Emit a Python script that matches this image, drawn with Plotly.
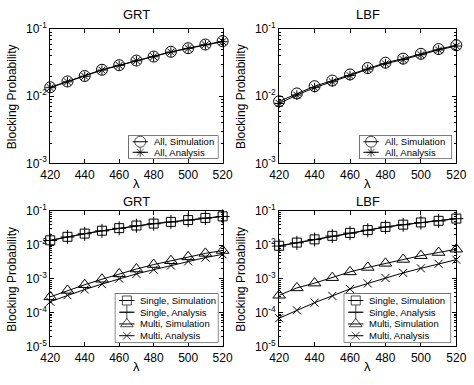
import plotly.graph_objects as go

W, H = 474, 385

lam = [420, 430, 440, 450, 460, 470, 480, 490, 500, 510, 520]

grt_all_sim = [0.0136, 0.0166, 0.0200, 0.0248, 0.0290, 0.0340, 0.0390, 0.0460, 0.0520, 0.0590, 0.0660]
grt_all_ana = [0.0134, 0.0164, 0.0198, 0.0245, 0.0288, 0.0338, 0.0388, 0.0455, 0.0515, 0.0585, 0.0650]

lbf_all_sim = [0.0084, 0.0110, 0.0141, 0.0171, 0.0211, 0.0263, 0.0316, 0.0363, 0.0428, 0.0504, 0.0574]
lbf_all_ana = [0.0078, 0.0104, 0.0134, 0.0164, 0.0203, 0.0253, 0.0305, 0.0352, 0.0416, 0.0490, 0.0560]

grt_single_sim = [0.0138, 0.0175, 0.0218, 0.0265, 0.0316, 0.0377, 0.0431, 0.0484, 0.0547, 0.0633, 0.0706]
grt_single_ana = [0.0136, 0.0173, 0.0215, 0.0262, 0.0312, 0.0372, 0.0426, 0.0480, 0.0543, 0.0628, 0.0700]
grt_multi_sim = [0.000292, 0.000452, 0.000668, 0.00097, 0.00140, 0.00195, 0.00264, 0.00343, 0.00445, 0.00565, 0.00687]
grt_multi_ana = [0.000211, 0.000326, 0.000482, 0.000698, 0.00101, 0.00140, 0.00186, 0.00247, 0.00328, 0.00425, 0.00529]

lbf_single_sim = [0.0095, 0.0118, 0.0147, 0.0187, 0.0228, 0.0277, 0.0344, 0.0401, 0.0466, 0.0520, 0.0606]
lbf_single_ana = [0.0093, 0.0116, 0.0145, 0.0184, 0.0225, 0.0273, 0.0340, 0.0397, 0.0462, 0.0516, 0.0600]
lbf_multi_sim = [0.000326, 0.000538, 0.000745, 0.00108, 0.00160, 0.00217, 0.00287, 0.00374, 0.00484, 0.00600, 0.00753]
lbf_multi_ana = [0.000068, 0.000117, 0.000197, 0.000312, 0.000502, 0.000727, 0.00106, 0.00150, 0.00204, 0.00278, 0.00368]

x_ticks = [420, 440, 460, 480, 500, 520]
panel_titles = ["GRT", "LBF", "GRT", "LBF"]
y_title = "Blocking Probability"
x_title = "λ"

FONT = "Liberation Sans, Arial, Helvetica, sans-serif"

STY = {
    "All, Simulation": dict(symbol="circle-open", size=11),
    "All, Analysis": dict(symbol="asterisk-open", size=8),
    "Single, Simulation": dict(symbol="square-open", size=9),
    "Single, Analysis": dict(symbol="cross-thin-open", size=10),
    "Multi, Simulation": dict(symbol="triangle-up-open", size=11),
    "Multi, Analysis": dict(symbol="x-thin-open", size=8),
}

# box: (left, right, top, bottom) in px; title_dy: gap of title above box
panels = [
    dict(box=(42, 222, 21, 161), decades=(-3, -1), leg=(124, 217, 132, 156), title_dy=15,
         series=[("All, Simulation", grt_all_sim), ("All, Analysis", grt_all_ana)]),
    dict(box=(281, 466, 21, 161), decades=(-3, -1), leg=(365, 461, 132, 156), title_dy=15,
         series=[("All, Simulation", lbf_all_sim), ("All, Analysis", lbf_all_ana)]),
    dict(box=(42, 222, 211, 352), decades=(-5, -1), leg=(110, 217, 297, 348), title_dy=10,
         series=[("Single, Simulation", grt_single_sim), ("Single, Analysis", grt_single_ana),
                 ("Multi, Simulation", grt_multi_sim), ("Multi, Analysis", grt_multi_ana)]),
    dict(box=(281, 466, 211, 352), decades=(-5, -1), leg=(349, 460, 297, 348), title_dy=10,
         series=[("Single, Simulation", lbf_single_sim), ("Single, Analysis", lbf_single_ana),
                 ("Multi, Simulation", lbf_multi_sim), ("Multi, Analysis", lbf_multi_ana)]),
]


def fx(p):
    return p / W


def fy(p):
    return 1 - p / H


fig = go.Figure()
layout = dict(
    width=W, height=H, margin=dict(l=0, r=0, t=0, b=0),
    paper_bgcolor="white", plot_bgcolor="white", showlegend=False,
    font=dict(family=FONT, size=12, color="black"),
)
annotations = []
shapes = []

axis_common = dict(showline=True, linecolor="black", linewidth=1, mirror="ticks",
                   ticks="inside", ticklen=4, tickcolor="black", tickwidth=1,
                   showgrid=False, zeroline=False,
                   tickfont=dict(family=FONT, size=12, color="black"))

for i, p in enumerate(panels):
    k = i + 1
    x0, x1, y0, y1 = p["box"]
    d0, d1 = p["decades"]
    xa = "xaxis" if k == 1 else f"xaxis{k}"
    ya = "yaxis" if k == 1 else f"yaxis{k}"
    xr = "x" if k == 1 else f"x{k}"
    yr = "y" if k == 1 else f"y{k}"
    layout[xa] = dict(axis_common, domain=[fx(x0), fx(x1)], anchor=yr, range=[lam[0], lam[-1]],
                      tickvals=x_ticks)
    tv = [10 ** e for e in range(d0, d1 + 1)]
    tt = [f"10<sup>{e}</sup>" for e in range(d0, d1 + 1)]
    minor_vals = [m * 10 ** e for e in range(d0, d1) for m in range(2, 10)]
    layout[ya] = dict(axis_common, domain=[fy(y1), fy(y0)], anchor=xr, type="log",
                      range=[d0, d1], tickvals=tv, ticktext=tt,
                      minor=dict(tickvals=minor_vals, ticks="inside", ticklen=2,
                                 tickcolor="black", showgrid=False))
    for name, vals in p["series"]:
        st = STY[name]
        fig.add_trace(go.Scatter(
            x=lam, y=vals, mode="lines+markers", name=name, xaxis=xr, yaxis=yr,
            line=dict(color="black", width=1),
            marker=dict(symbol=st["symbol"], size=st["size"], color="black",
                        line=dict(color="black", width=1)),
            cliponaxis=False))
    # titles
    cx = (x0 + x1) / 2
    annotations.append(dict(text=panel_titles[i], x=fx(cx), y=fy(y0 - p["title_dy"]), xref="paper",
                            yref="paper", showarrow=False, xanchor="center", yanchor="middle",
                            font=dict(family=FONT, size=13)))
    annotations.append(dict(text=x_title, x=fx(cx), y=fy(y1 + 21), xref="paper", yref="paper",
                            showarrow=False, xanchor="center", yanchor="middle",
                            font=dict(family=FONT, size=13)))
    annotations.append(dict(text=y_title, x=fx(x0 - 40), y=fy((y0 + y1) / 2), xref="paper", yref="paper",
                            showarrow=False, xanchor="center", yanchor="middle", textangle=-90,
                            font=dict(family=FONT, size=12)))
    # legend (custom box)
    lx0, lx1, ly0, ly1 = p["leg"]
    lw, lh = lx1 - lx0, ly1 - ly0
    lk = k + 4
    layout[f"xaxis{lk}"] = dict(domain=[fx(lx0), fx(lx1)], range=[0, lw], visible=False,
                                anchor=f"y{lk}", fixedrange=True)
    layout[f"yaxis{lk}"] = dict(domain=[fy(ly1), fy(ly0)], range=[0, lh], visible=False,
                                anchor=f"x{lk}", fixedrange=True)
    shapes.append(dict(type="rect", xref="paper", yref="paper", x0=fx(lx0), x1=fx(lx1),
                       y0=fy(ly1), y1=fy(ly0), line=dict(color="black", width=1),
                       fillcolor="white", layer="below"))
    n = len(p["series"])
    row_h = (lh - 2) / n
    for j, (name, _) in enumerate(p["series"]):
        st = STY[name]
        yy = lh - 1 - (j + 0.5) * row_h
        fig.add_trace(go.Scatter(
            x=[4, 12, 20], y=[yy, yy, yy], mode="lines+markers", xaxis=f"x{lk}", yaxis=f"y{lk}",
            line=dict(color="black", width=1), hoverinfo="skip",
            marker=dict(symbol=st["symbol"], size=[0, st["size"], 0], color="black",
                        line=dict(color="black", width=1)),
            cliponaxis=False))
        annotations.append(dict(text=name, x=24, y=yy, xref=f"x{lk}", yref=f"y{lk}",
                                showarrow=False, xanchor="left", yanchor="middle",
                                font=dict(family=FONT, size=9.5)))

layout["annotations"] = annotations
layout["shapes"] = shapes
fig.update_layout(**layout)

fig.write_html("out.html", config={"displayModeBar": False},
               post_script="document.body.style.margin='0';")
